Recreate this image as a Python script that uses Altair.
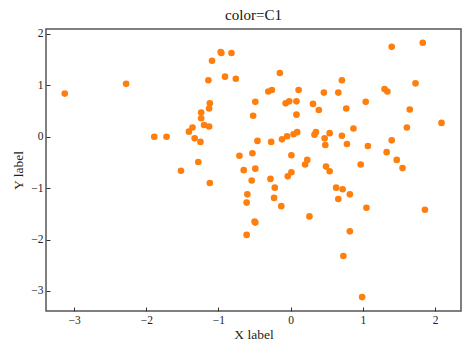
import altair as alt
import pandas as pd

x_vals = [-3.13, -2.28, -1.89, -1.72, -1.41, -1.36, -1.33, -1.25, -1.28, -1.52,
          -1.24, -1.24, -1.20, -1.13, -1.12, -1.13, -1.14, -1.09, -0.97, -0.96,
          -0.82, -0.91, -0.76, -0.49, -0.52, -0.46, -0.71, -0.53, -0.65, -0.49,
          -1.12, -0.54, -0.60, -0.61, -0.50, -0.49, -0.61, -0.15, -0.31, -0.26,
          0.11, -0.07, -0.02, 0.08, 0.08, -0.27, -0.12, -0.05, 0.04, 0.09,
          1.40, 1.83, 0.31, 0.39, 0.46, 0.66, 0.71, 0.77, 1.04, 1.30,
          1.34, 1.73, 1.65, 2.09, 1.61, 1.40, 1.33, 1.47, 1.55, 0.87,
          1.07, 0.78, 0.71, 0.54, 0.47, 0.48, 0.33, 0.35, 0.97, 0.49,
          0.54, 0.20, 0.23, 0.01, 0.01, -0.04, -0.28, -0.22, -0.23, -0.13,
          0.63, 0.72, 0.66, 0.82, 1.05, 1.86, 0.26, 0.82, 0.73, 0.99]
y_vals = [0.84, 1.03, 0.00, 0.00, 0.10, 0.18, -0.03, -0.10, -0.49, -0.66,
          0.47, 0.36, 0.23, 0.20, 0.65, 0.55, 1.10, 1.48, 1.65, 1.63,
          1.63, 1.17, 1.13, 0.68, 0.41, -0.08, -0.37, -0.32, -0.65, -0.62,
          -0.90, -0.85, -1.12, -1.28, -1.65, -1.67, -1.91, 1.24, 0.88, 0.91,
          0.91, 0.65, 0.69, 0.69, 0.43, -0.10, -0.05, 0.01, 0.05, 0.09,
          1.75, 1.83, 0.64, 0.52, 0.86, 0.86, 1.10, 0.55, 0.68, 0.93,
          0.88, 1.04, 0.53, 0.27, 0.18, -0.07, -0.30, -0.45, -0.61, 0.16,
          -0.18, -0.14, 0.02, 0.07, -0.03, -0.16, 0.04, 0.09, -0.54, -0.58,
          -0.67, -0.54, -0.45, -0.36, -0.69, -0.77, -0.82, -0.99, -1.19, -1.35,
          -0.99, -1.02, -1.21, -1.12, -1.38, -1.42, -1.55, -1.84, -2.32, -3.12]
x_ticks = [-3, -2, -1, 0, 1, 2]
y_ticks = [-3, -2, -1, 0, 1, 2]

df = pd.DataFrame({"x": x_vals, "y": y_vals})

FONT = "Liberation Serif"

chart = alt.Chart(df).mark_circle(size=44, opacity=1, color="#ff7f0e").encode(
    x=alt.X("x:Q",
            scale=alt.Scale(domain=[-3.39, 2.36], nice=False, zero=False),
            axis=alt.Axis(title="X label", values=x_ticks, grid=False, domain=False,
                          offset=-4, tickSize=4, tickColor="#333333", labelPadding=3,
                          labelFont=FONT, labelFontSize=11.5, labelColor="#222222",
                          titleFont=FONT, titleFontSize=13.5, titleFontWeight="normal",
                          titleColor="#222222", titlePadding=2)),
    y=alt.Y("y:Q",
            scale=alt.Scale(domain=[-3.39, 2.097], nice=False, zero=False),
            axis=alt.Axis(title="Y label", values=y_ticks, grid=False, domain=False,
                          offset=-4, tickSize=4, tickColor="#333333", labelPadding=3,
                          labelFont=FONT, labelFontSize=11.5, labelColor="#222222",
                          titleFont=FONT, titleFontSize=13.5, titleFontWeight="normal",
                          titleColor="#222222", titlePadding=5)),
).properties(
    width=415,
    height=282,
    title=alt.Title("color=C1", font=FONT, fontSize=15, fontWeight="normal",
                    color="#111111", offset=5),
    autosize=alt.AutoSizeParams(type="none"),
    padding={"left": 38, "top": 21, "right": 5, "bottom": 40},
).configure_view(
    stroke="#555555", strokeWidth=1.5
)

chart.save("out.html", embed_options={"renderer": "svg", "actions": False})
